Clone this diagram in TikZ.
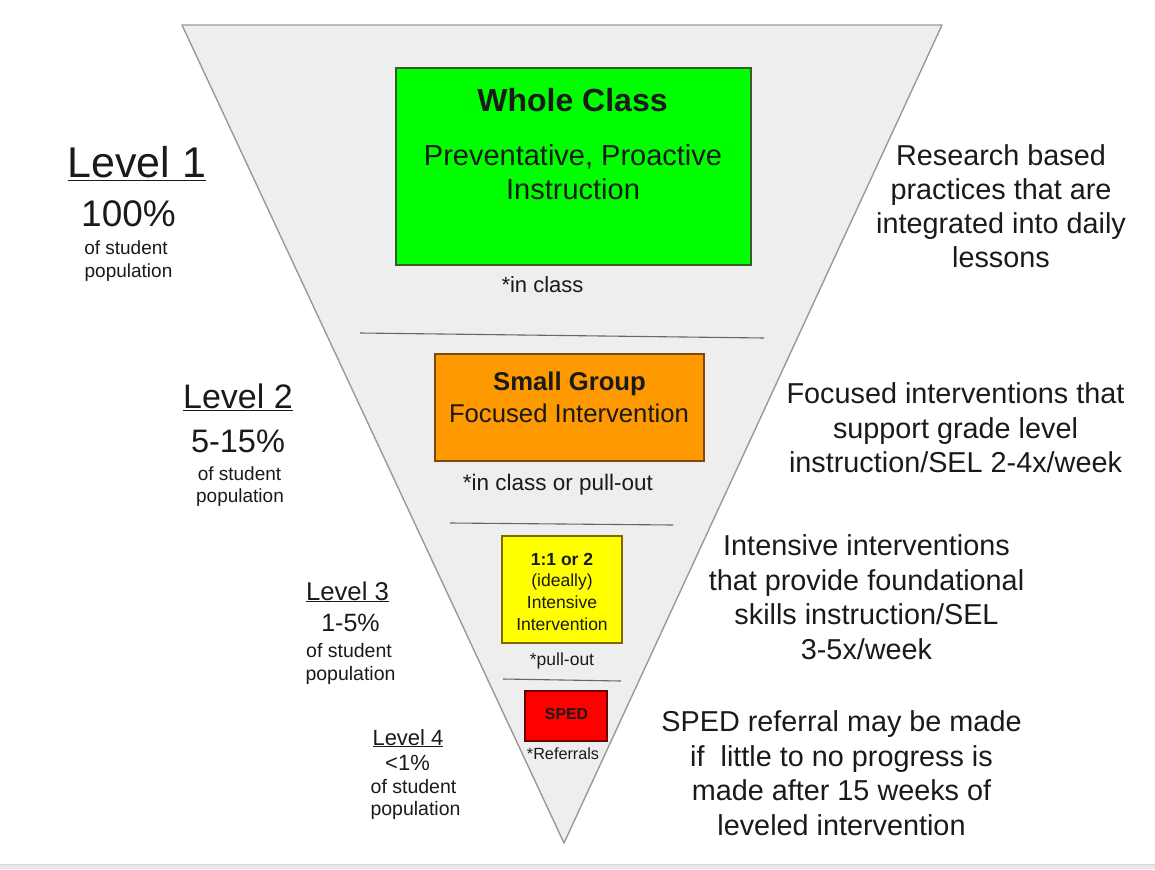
\documentclass[tikz,border=0pt]{standalone}
\usepackage{fontspec}
\setmainfont{Liberation Sans}
\newcommand\fsz[1]{\fontsize{#1}{#1}\selectfont}
\definecolor{textc}{HTML}{1A1A1A}
\definecolor{trifill}{HTML}{EEEEEE}
\definecolor{triline}{HTML}{999999}
\definecolor{sepline}{HTML}{666666}
\definecolor{gfill}{HTML}{00FF00}
\definecolor{gline}{HTML}{3A5A2A}
\definecolor{ofill}{HTML}{FF9900}
\definecolor{oline}{HTML}{7A4A10}
\definecolor{yfill}{HTML}{FFFF00}
\definecolor{yline}{HTML}{7F6A00}
\definecolor{rfill}{HTML}{FF0000}
\definecolor{rline}{HTML}{6A0000}
\definecolor{stripc}{HTML}{E8E8E8}
\tikzset{
  txt/.style={inner sep=0pt, outer sep=0pt, anchor=base, text=textc},
  box/.style={draw, line width=1.6pt, inner sep=0pt, outer sep=0pt},
  sep/.style={draw=sepline, line width=1.1pt},
}
\begin{document}
\begin{tikzpicture}[x=1pt,y=-1pt]
\useasboundingbox (0,0) rectangle (1155,869);
% bottom strip
\fill[stripc] (0,864) rectangle (1155,869);
\draw[color=black!15, line width=0.8pt] (0,864) -- (1155,864);
% triangle
\coordinate (tl) at (182,25);
\coordinate (tr) at (942,25);
\coordinate (ap) at (564,843);
\draw[fill=trifill, draw=triline, line width=1.4pt, line join=round] (tl) -- (tr) -- (ap) -- cycle;
% separators
\coordinate (s1a) at (360,333); \coordinate (s1b) at (764,338);
\coordinate (s2a) at (450,523); \coordinate (s2b) at (673,525);
\coordinate (s3a) at (503,679); \coordinate (s3b) at (621,681);
\draw[sep] (s1a) -- (s1b);
\draw[sep] (s2a) -- (s2b);
\draw[sep] (s3a) -- (s3b);
% boxes
\node[box, fill=gfill, draw=gline, minimum width=355pt, minimum height=197pt] (gbox) at (573.5,166.5) {};
\node[box, fill=ofill, draw=oline, minimum width=269pt, minimum height=107pt] (obox) at (569.5,407.5) {};
\node[box, fill=yfill, draw=yline, minimum width=120pt, minimum height=107pt] (ybox) at (562,589.5) {};
\node[box, fill=rfill, draw=rline, minimum width=82pt, minimum height=50pt] (rbox) at (566,716) {};
% box texts
\node[txt, font=\fsz{32}\bfseries] (g1) at (572.5,112) {Whole Class};
\node[txt, font=\fsz{29}] (g2) at (573,165) {Preventative, Proactive};
\node[txt, font=\fsz{29}] (g3) at (573,199) {Instruction};
\node[txt, font=\fsz{22}] (g4) at (542.5,292) {*in class};
\node[txt, font=\fsz{25.7}\bfseries] (o1) at (569.5,390) {Small Group};
\node[txt, font=\fsz{25.7}] (o2) at (569,422) {Focused Intervention};
\node[txt, font=\fsz{22.5}] (o3) at (558,490) {*in class or pull-out};
\node[txt, font=\fsz{17.5}\bfseries] (y1) at (562,565) {1:1 or 2};
\node[txt, font=\fsz{17.5}] (y2) at (562,586) {(ideally)};
\node[txt, font=\fsz{17.5}] (y3) at (562,608) {Intensive};
\node[txt, font=\fsz{17.5}] (y4) at (562,630) {Intervention};
\node[txt, font=\fsz{17.5}] (y5) at (562,665) {*pull-out};
\node[txt, font=\fsz{15.8}\bfseries] (r1) at (566.5,719) {SPED};
\node[txt, font=\fsz{16.2}] (r2) at (563,759) {*Referrals};
% left labels
\node[txt, font=\fsz{43}] (l1a) at (137,178) {\underline{Level 1}};
\node[txt, font=\fsz{37}] (l1b) at (128.5,226) {100\%};
\node[txt, font=\fsz{19}] (l1c) at (126,254) {of student};
\node[txt, font=\fsz{19}] (l1d) at (128.5,277) {population};
\node[txt, font=\fsz{34}] (l2a) at (238,408) {\underline{Level 2}};
\node[txt, font=\fsz{32.5}] (l2b) at (238,452) {5-15\%};
\node[txt, font=\fsz{19}] (l2c) at (239.5,480) {of student};
\node[txt, font=\fsz{19}] (l2d) at (240,502) {population};
\node[txt, font=\fsz{25.7}] (l3a) at (347.5,600) {\underline{Level 3}};
\node[txt, font=\fsz{25}] (l3b) at (350.5,631) {1-5\%};
\node[txt, font=\fsz{19.5}] (l3c) at (349,657) {of student};
\node[txt, font=\fsz{19.5}] (l3d) at (350.5,680) {population};
\node[txt, font=\fsz{22}] (l4a) at (408,745) {\underline{Level 4}};
\node[txt, font=\fsz{22}] (l4b) at (407.5,770) {<1\%};
\node[txt, font=\fsz{19.5}] (l4c) at (413.5,793) {of student};
\node[txt, font=\fsz{19.5}] (l4d) at (415.5,815) {population};
% right descriptions
\node[txt, font=\fsz{28.8}] (d1a) at (1001,165) {Research based};
\node[txt, font=\fsz{28.8}] (d1b) at (1001,199) {practices that are};
\node[txt, font=\fsz{28.8}] (d1c) at (1001,233) {integrated into daily};
\node[txt, font=\fsz{28.8}] (d1d) at (1001,267) {lessons};
\node[txt, font=\fsz{28.8}] (d2a) at (955.5,403) {Focused interventions that};
\node[txt, font=\fsz{28.8}] (d2b) at (955.5,438) {support grade level};
\node[txt, font=\fsz{28.8}] (d2c) at (955.5,472) {instruction/SEL 2-4x/week};
\node[txt, font=\fsz{28.8}] (d3a) at (866.5,555) {Intensive interventions};
\node[txt, font=\fsz{28.8}] (d3b) at (866.5,590) {that provide foundational};
\node[txt, font=\fsz{28.8}] (d3c) at (866.5,624) {skills instruction/SEL};
\node[txt, font=\fsz{28.8}] (d3d) at (866.5,659) {3-5x/week};
\node[txt, font=\fsz{28.8}] (d4a) at (841.5,731.5) {SPED referral may be made};
\node[txt, font=\fsz{28.8}] (d4b) at (841.5,766) {if\ \ little to no progress is};
\node[txt, font=\fsz{28.8}] (d4c) at (841.5,800.5) {made after 15 weeks of};
\node[txt, font=\fsz{28.8}] (d4d) at (841.5,835) {leveled intervention};
\end{tikzpicture}
\end{document}
